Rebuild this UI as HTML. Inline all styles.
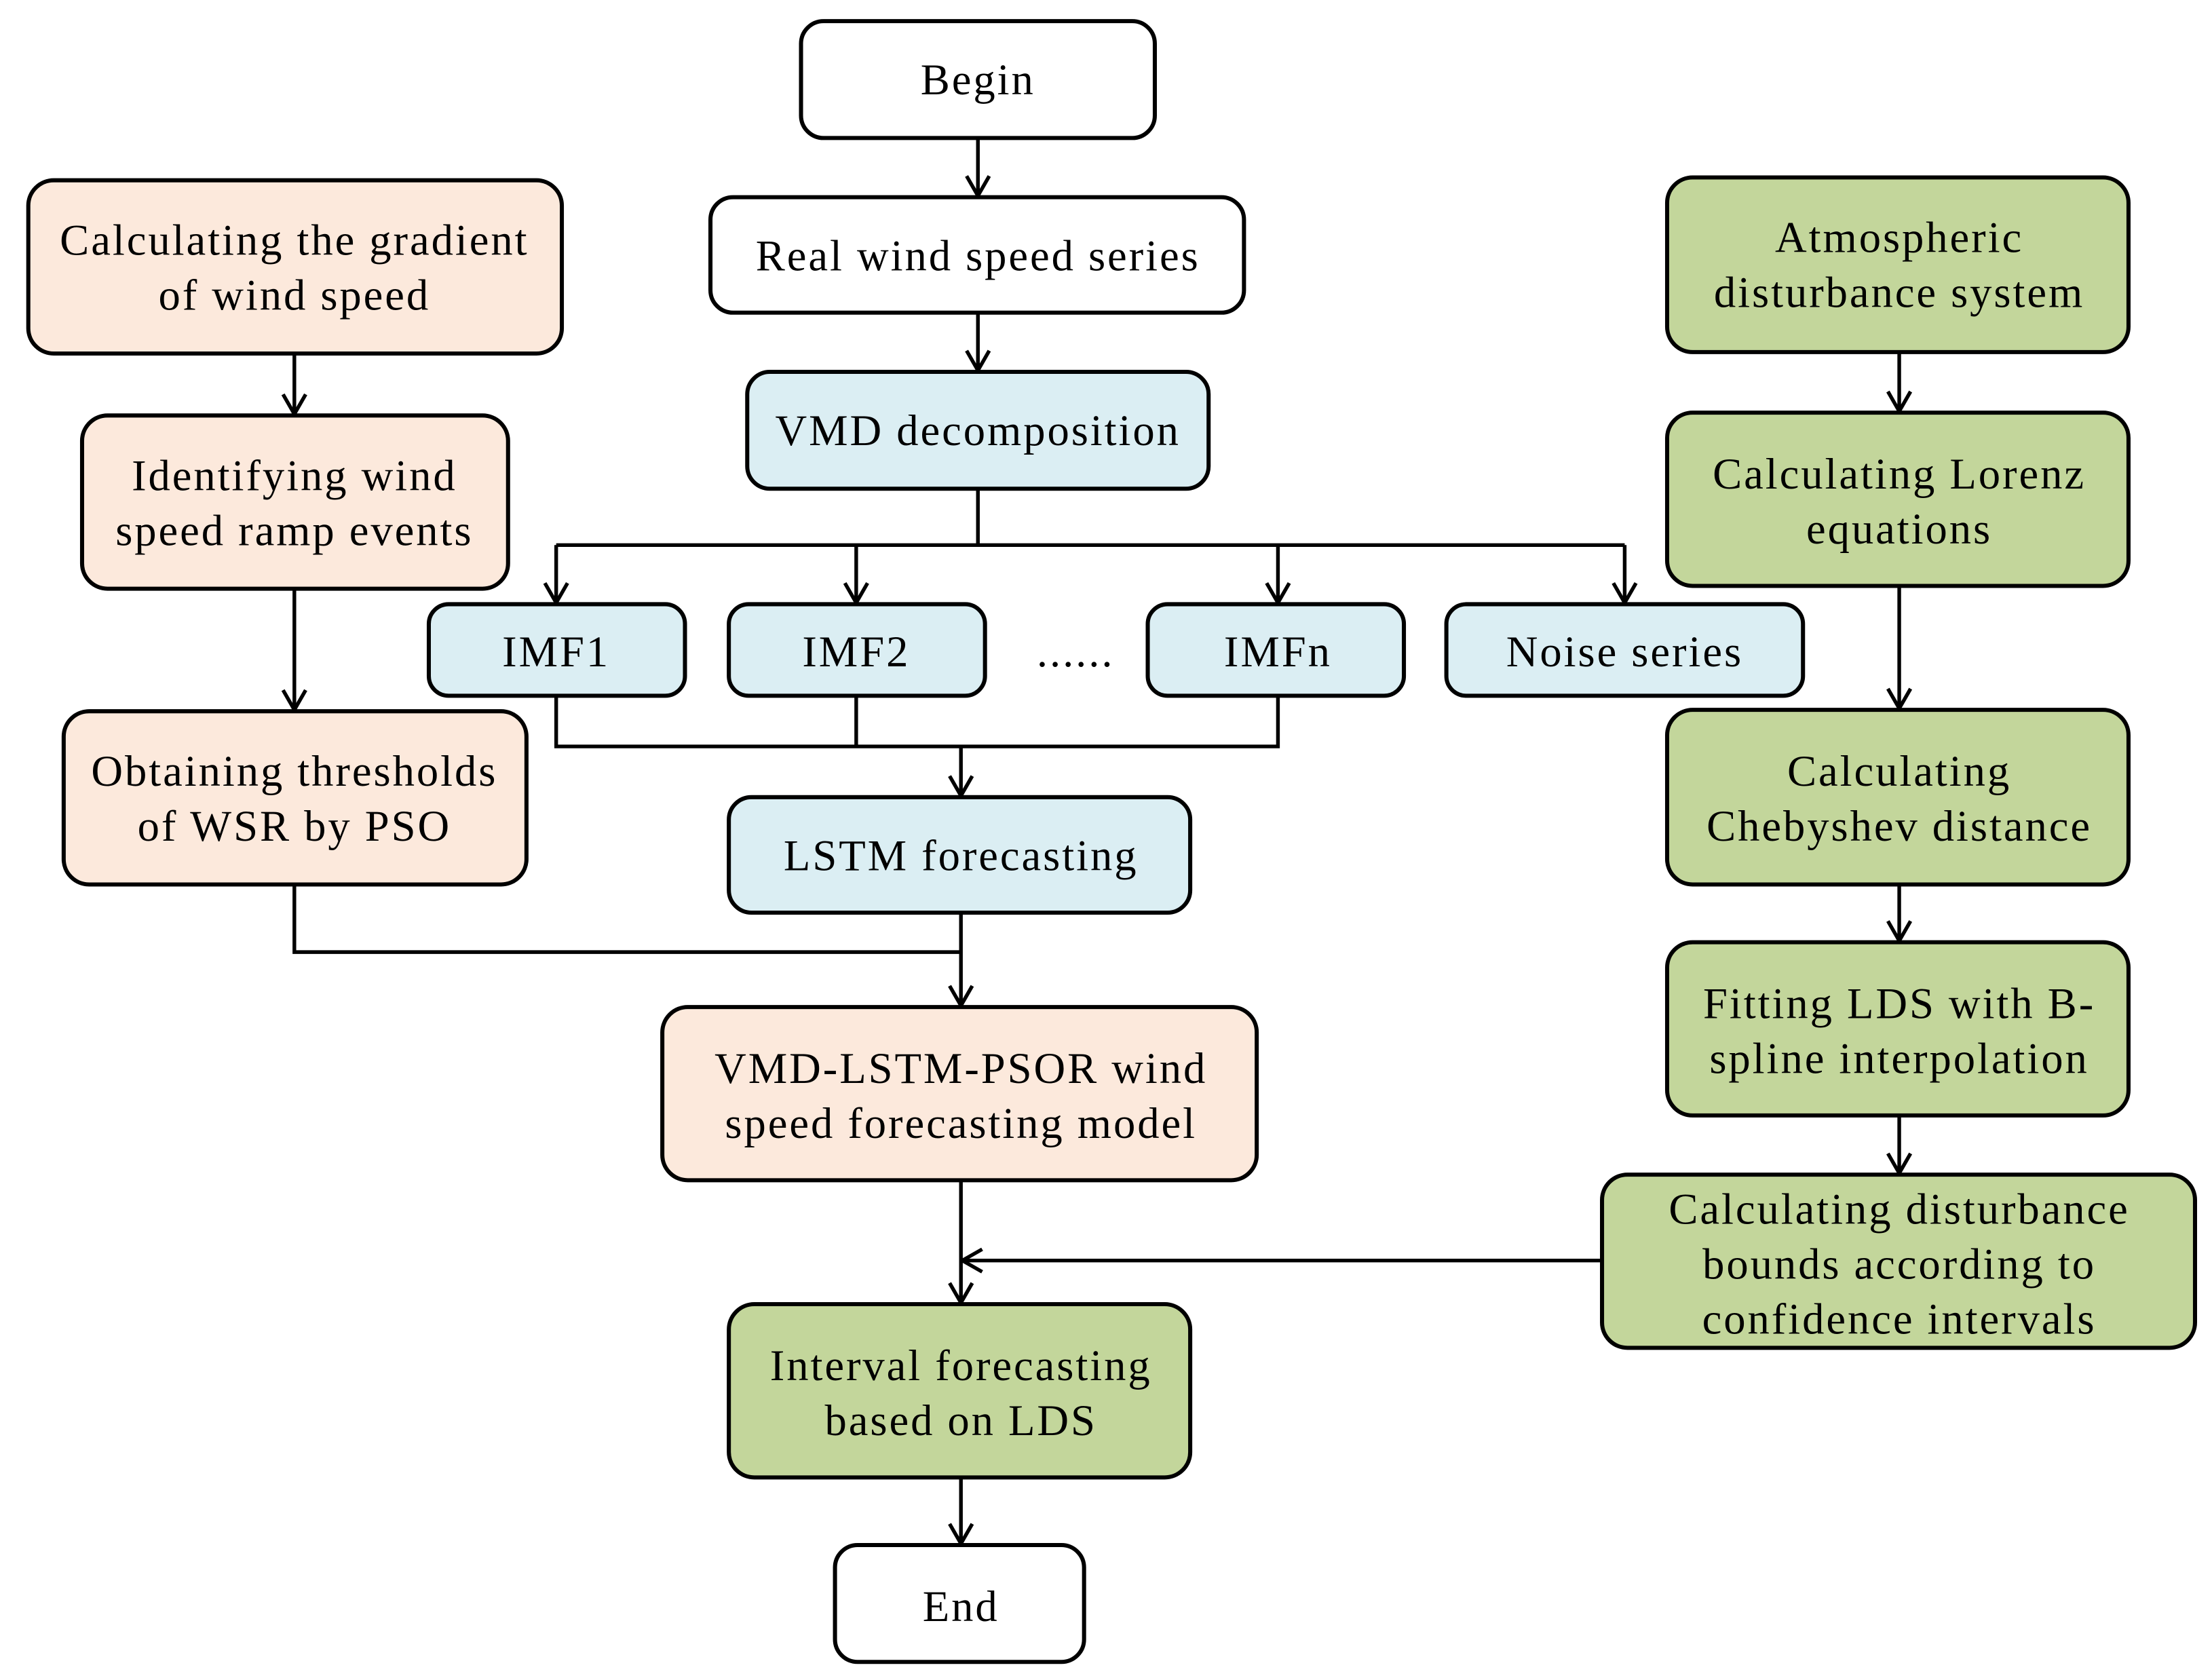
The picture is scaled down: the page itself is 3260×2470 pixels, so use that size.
<!DOCTYPE html>
<html><head><meta charset="utf-8"><style>html,body{margin:0;padding:0;background:#fff}svg{display:block}</style></head>
<body>
<svg width="3260" height="2470" viewBox="0 0 1563 1190" preserveAspectRatio="none" xmlns="http://www.w3.org/2000/svg">
<defs>
<marker id="a" viewBox="0 0 20 20" refX="18" refY="10" markerWidth="20" markerHeight="20" markerUnits="userSpaceOnUse" orient="auto">
<path d="M4,2 L18,10 L4,18" fill="none" stroke="#000" stroke-width="2.6"/>
</marker>
</defs>
<g fill="none" stroke="#000" stroke-width="2.6">
<path d="M691,98V139" marker-end="url(#a)"/>
<path d="M691,222V263" marker-end="url(#a)"/>
<path d="M691,347V387M393,387H1148"/>
<path d="M393,387V428" marker-end="url(#a)"/>
<path d="M605,387V428" marker-end="url(#a)"/>
<path d="M903,387V428" marker-end="url(#a)"/>
<path d="M1148,387V428" marker-end="url(#a)"/>
<path d="M393,494V530H903V494M605,494V530"/>
<path d="M679,530V565" marker-end="url(#a)"/>
<path d="M208,251V294" marker-end="url(#a)"/>
<path d="M208,418V504" marker-end="url(#a)"/>
<path d="M208,628V676H679"/>
<path d="M679,648V714" marker-end="url(#a)"/>
<path d="M679,838V925" marker-end="url(#a)"/>
<path d="M1132,895H680" marker-end="url(#a)"/>
<path d="M679,1049V1096" marker-end="url(#a)"/>
<path d="M1342,250V292" marker-end="url(#a)"/>
<path d="M1342,416V503" marker-end="url(#a)"/>
<path d="M1342,628V668" marker-end="url(#a)"/>
<path d="M1342,792V833" marker-end="url(#a)"/>
</g>
<g stroke="#000" stroke-width="2.9">
<rect x="566" y="15" width="250" height="83" rx="16" fill="#fff"/>
<rect x="502" y="140" width="377" height="82" rx="16" fill="#fff"/>
<rect x="528" y="264" width="326" height="83" rx="16" fill="#dbeef3"/>
<rect x="20" y="128" width="377" height="123" rx="18" fill="#fce9dc"/>
<rect x="58" y="295" width="301" height="123" rx="18" fill="#fce9dc"/>
<rect x="45" y="505" width="327" height="123" rx="18" fill="#fce9dc"/>
<rect x="303" y="429" width="181" height="65" rx="14" fill="#dbeef3"/>
<rect x="515" y="429" width="181" height="65" rx="14" fill="#dbeef3"/>
<rect x="811" y="429" width="181" height="65" rx="14" fill="#dbeef3"/>
<rect x="1022" y="429" width="252" height="65" rx="14" fill="#dbeef3"/>
<rect x="515" y="566" width="326" height="82" rx="16" fill="#dbeef3"/>
<rect x="468" y="715" width="420" height="123" rx="18" fill="#fce9dc"/>
<rect x="515" y="926" width="326" height="123" rx="18" fill="#c3d69b"/>
<rect x="590" y="1097" width="176" height="83" rx="16" fill="#fff"/>
<rect x="1178" y="126" width="326" height="124" rx="18" fill="#c3d69b"/>
<rect x="1178" y="293" width="326" height="123" rx="18" fill="#c3d69b"/>
<rect x="1178" y="504" width="326" height="124" rx="18" fill="#c3d69b"/>
<rect x="1178" y="669" width="326" height="123" rx="18" fill="#c3d69b"/>
<rect x="1132" y="834" width="419" height="123" rx="18" fill="#c3d69b"/>
</g>
<g font-family="Liberation Serif, serif" font-size="31" letter-spacing="1.4" text-anchor="middle" fill="#000">
<text x="691" y="67">Begin</text>
<text x="691" y="192">Real wind speed series</text>
<text x="691" y="316">VMD decomposition</text>
<text x="208" y="181">Calculating the gradient</text>
<text x="208" y="220">of wind speed</text>
<text x="208" y="348">Identifying wind</text>
<text x="208" y="387">speed ramp events</text>
<text x="208" y="558">Obtaining thresholds</text>
<text x="208" y="597">of WSR by PSO</text>
<text x="393" y="473">IMF1</text>
<text x="605" y="473">IMF2</text>
<text x="760" y="473">......</text>
<text x="903" y="473">IMFn</text>
<text x="1148" y="473">Noise series</text>
<text x="679" y="618">LSTM forecasting</text>
<text x="679" y="769">VMD-LSTM-PSOR wind</text>
<text x="679" y="808">speed forecasting model</text>
<text x="679" y="980">Interval forecasting</text>
<text x="679" y="1019">based on LDS</text>
<text x="679" y="1151">End</text>
<text x="1342" y="179">Atmospheric</text>
<text x="1342" y="218">disturbance system</text>
<text x="1342" y="347">Calculating Lorenz</text>
<text x="1342" y="386">equations</text>
<text x="1342" y="558">Calculating</text>
<text x="1342" y="597">Chebyshev distance</text>
<text x="1342" y="723">Fitting LDS with B-</text>
<text x="1342" y="762">spline interpolation</text>
<text x="1342" y="869">Calculating disturbance</text>
<text x="1342" y="908">bounds according to</text>
<text x="1342" y="947">confidence intervals</text>
</g>
</svg>
</body></html>
